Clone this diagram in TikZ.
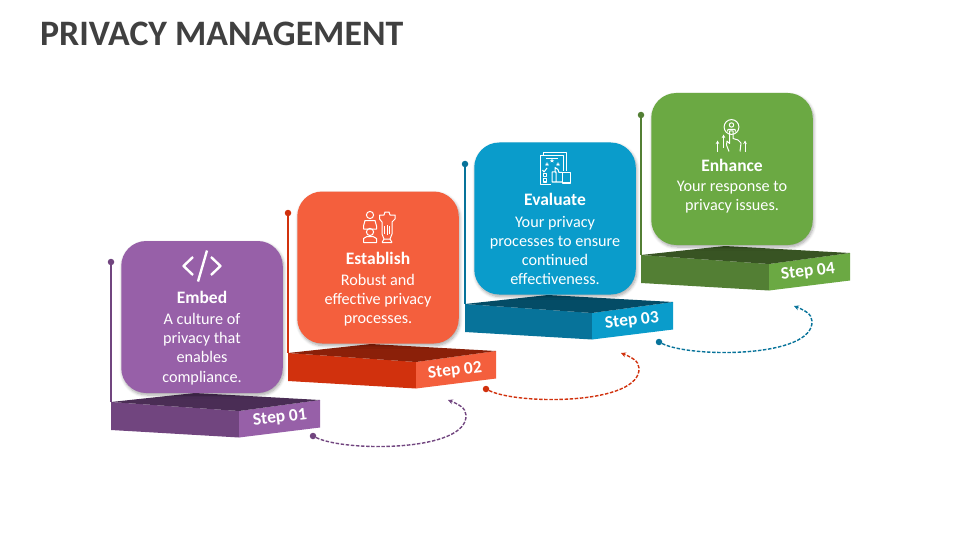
\documentclass[tikz,border=0pt]{standalone}
\usepackage{xcolor}
\usepackage{fontspec}
\setmainfont{Carlito}
\usepackage{tikz}
\usetikzlibrary{arrows.meta, shadows.blur}

\definecolor{titlegray}{HTML}{404040}
\definecolor{purplecard}{HTML}{9760A8}
\definecolor{purpleside}{HTML}{71457F}
\definecolor{purpletop}{HTML}{4A2D55}
\definecolor{redcard}{HTML}{F45F3D}
\definecolor{redside}{HTML}{D1310D}
\definecolor{redtop}{HTML}{8B2009}
\definecolor{bluecard}{HTML}{0A9CCB}
\definecolor{blueside}{HTML}{07739A}
\definecolor{bluetop}{HTML}{044C66}
\definecolor{greencard}{HTML}{6BA943}
\definecolor{greenside}{HTML}{537F34}
\definecolor{greentop}{HTML}{385423}

\begin{document}
\begin{tikzpicture}[x=1pt, y=-1pt]
\tikzstyle{card}=[rounded corners=25pt, minimum width=161.5pt, minimum height=152pt, inner sep=0pt,
  blur shadow={shadow xshift=1pt, shadow yshift=-2pt, shadow blur radius=3pt, shadow blur steps=6, shadow opacity=35}]
\tikzstyle{head}=[white, font=\fontsize{17.5}{20}\selectfont\bfseries]
\tikzstyle{body}=[white, align=center, inner sep=0pt, font=\fontsize{16.2}{19.2}\selectfont]
\tikzstyle{steplabel}=[white, rotate=7, inner sep=0pt, font=\fontsize{17.5}{20}\selectfont\bfseries]
\tikzstyle{dot}=[circle, minimum size=6.5pt, inner sep=0pt]
\tikzstyle{pole}=[line width=2pt]
\tikzstyle{loopline}=[line width=1.4pt, dash pattern=on 3.5pt off 1.6pt, -{Stealth[length=5pt, width=5pt]}]
\tikzstyle{icon}=[white, line width=1pt, line join=round]
\useasboundingbox (0,0) rectangle (960,540);

\node[titlegray, anchor=west, inner sep=0pt, font=\fontsize{35.8}{40}\selectfont\bfseries] (title) at (40,34) {PRIVACY MANAGEMENT};

% step 01
\fill[purpleside] (111,402) -- (239,411) -- (239,437.5) -- (111,430) -- cycle;
\fill[purplecard] (239,411) -- (320,400) -- (320,427.5) -- (239,437.5) -- cycle;
\fill[purpletop] (111,402) -- (195,393) -- (320,400) -- (239,411) -- cycle;
\node[dot, fill=purpleside] (dota) at (111,262) {};
\coordinate (basea) at (111,402);
\path (dota) edge[pole, purpleside] (basea);
\node[card, fill=purplecard] (embed) at (202,317) {};
\node[head] (embedhead) at (202,297) {Embed};
\node[body] (embedbody) at (202,349) {A culture of\\privacy that\\enables\\compliance.};
\node[steplabel] (stepa) at (280,418) {Step 01};
\draw[white, line width=2.4pt, line join=round] (193,257) -- (183.5,266) -- (193,275) (211,257) -- (220.5,266) -- (211,275) (207,250.5) -- (198,281.5);

% step 02
\fill[redside] (288,353) -- (416,362) -- (416,388.5) -- (288,381) -- cycle;
\fill[redcard] (416,362) -- (496,351) -- (496,378.5) -- (416,388.5) -- cycle;
\fill[redtop] (288,353) -- (371,344) -- (496,351) -- (416,362) -- cycle;
\node[dot, fill=redside] (dotb) at (288,213) {};
\coordinate (baseb) at (288,353);
\path (dotb) edge[pole, redside] (baseb);
\node[card, fill=redcard] (establish) at (378,267.5) {};
\node[head] (establishhead) at (378,258) {Establish};
\node[body] (establishbody) at (378,300) {Robust and\\effective privacy\\processes.};
\node[steplabel] (stepb) at (455,371) {Step 02};
% two figures, left
\draw[icon] (370,215) circle (3.6pt);
\draw[icon] (363.5,226) -- (365,220.5) -- (375,220.5) -- (376.5,226) -- (376.5,229) -- (363.5,229) -- cycle;
\draw[icon] (370,232) circle (3.6pt);
\draw[icon] (363.5,242.5) -- (363.5,238.5) -- (367,236.5) -- (373,236.5) -- (376.5,238.5) -- (376.5,242.5) -- cycle;
% dress form and hand, right
\draw[icon] (384,215) -- (385,212) -- (389,212) -- (390,215) -- (395,215) -- (395,219) -- (392,222) -- (392,234) -- (390,239) -- (384,239) -- (382,234) -- (382,222) -- (379.5,219) -- (379.5,215) -- cycle;
\draw[icon] (384.5,226) -- (384.5,234) (387,225) -- (387,235) (389.5,226) -- (389.5,234);
\draw[icon] (382,242.5) -- (392,242.5) (384,239) -- (382,242.5) (390,239) -- (392,242.5);

% step 03
\fill[blueside] (465,304) -- (592,313) -- (592,339.5) -- (465,332) -- cycle;
\fill[bluecard] (592,313) -- (673,302) -- (673,329.5) -- (592,339.5) -- cycle;
\fill[bluetop] (465,304) -- (548,295) -- (673,302) -- (592,313) -- cycle;
\node[dot, fill=blueside] (dotc) at (465,164) {};
\coordinate (basec) at (465,304);
\path (dotc) edge[pole, blueside] (basec);
\node[card, fill=bluecard] (evaluate) at (555,218.5) {};
\node[head] (evaluatehead) at (555,199) {Evaluate};
\node[body] (evaluatebody) at (555,250.5) {Your privacy\\processes to ensure\\continued\\effectiveness.};
\node[steplabel] (stepc) at (632,321) {Step 03};
% checklist with thumb
\draw[icon] (563,171) -- (563,155.5) -- (540.5,155.5) -- (540.5,184) -- (551,184);
\draw[icon] (543,155.5) -- (543,153) -- (566.5,153) -- (566.5,171.5);
\draw[icon] (546,158.5) -- (558,158.5);
\draw[icon] (552,172) rectangle (556,182) (556,173) -- (555,171) -- (555,167.5) -- (558,169.5) -- (559,172.5) -- (562,172.5) (556,182) -- (562,182);
\draw[icon] (562,172.5) rectangle (570,183);
\fill[white] (547,162) -- (548.5,166) -- (545,164) -- (549,164) -- (545.5,166) -- cycle;
\fill[white] (552,158.5) -- (553.5,162.5) -- (550,160.5) -- (554,160.5) -- (550.5,162.5) -- cycle;
\fill[white] (558,162) -- (559.5,166) -- (556,164) -- (560,164) -- (556.5,166) -- cycle;
\draw[icon] (542.5,170) -- (544,172) -- (547,168);
\draw[icon] (543,174) rectangle (546,177) (543,179) rectangle (546,182);

% step 04
\fill[greenside] (641,255) -- (769,264) -- (769,290.5) -- (641,283) -- cycle;
\fill[greencard] (769,264) -- (850,253) -- (850,280.5) -- (769,290.5) -- cycle;
\fill[greentop] (641,255) -- (725,246) -- (850,253) -- (769,264) -- cycle;
\node[dot, fill=greenside] (dotd) at (641,115) {};
\coordinate (based) at (641,255);
\path (dotd) edge[pole, greenside] (based);
\node[card, fill=greencard] (enhance) at (732,169) {};
\node[head] (enhancehead) at (732,165) {Enhance};
\node[body] (enhancebody) at (732,197) {Your response to\\privacy issues.};
\node[steplabel] (stepd) at (808,272) {Step 04};
% hand pressing a person button
\draw[icon] (731.5,127) circle (7.4pt);
\draw[icon] (731.5,125) circle (2.2pt);
\draw[icon] (727.5,131.5) -- (728,129.5) -- (735,129.5) -- (735.5,131.5);
\draw[icon] (729,151.5) -- (726.5,145) -- (727,141) -- (729.5,143.5) -- (729.5,131) -- (733,131) -- (733,138.5) -- (738,140) -- (741,143) -- (740,151.5);
\draw[icon, -{Stealth[length=3.5pt, width=3.5pt]}] (717.5,152) -- (717.5,140.5);
\draw[icon, -{Stealth[length=3.5pt, width=3.5pt]}] (723.5,148) -- (723.5,134.5);
\draw[icon, -{Stealth[length=3.5pt, width=3.5pt]}] (745,152) -- (745,140.5);

% loops between the steps
\node[dot, fill=purpleside] (dotpa) at (313,436) {};
\coordinate (sidepa) at (466,415);
\coordinate (tippa) at (448,400);
\draw[loopline, purpleside] (dotpa) .. controls (345,452) and (468,452) .. (sidepa) .. controls (466,408) and (458,404) .. (tippa);
\node[dot, fill=redside] (dotpb) at (486,389) {};
\coordinate (sidepb) at (639,368);
\coordinate (tippb) at (621,353);
\draw[loopline, redside] (dotpb) .. controls (518,405) and (641,405) .. (sidepb) .. controls (639,361) and (631,357) .. (tippb);
\node[dot, fill=blueside] (dotpc) at (659,342) {};
\coordinate (sidepc) at (812,321);
\coordinate (tippc) at (794,306);
\draw[loopline, blueside] (dotpc) .. controls (691,358) and (814,358) .. (sidepc) .. controls (812,314) and (804,310) .. (tippc);

\end{tikzpicture}
\end{document}
